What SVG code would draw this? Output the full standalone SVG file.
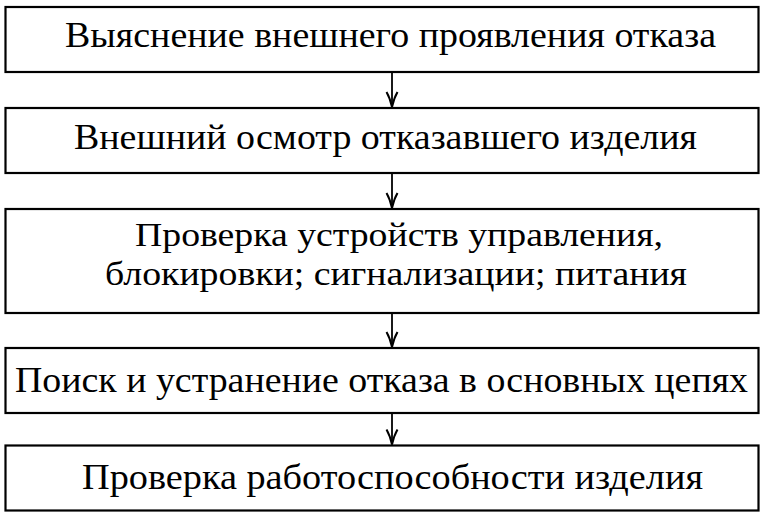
<svg xmlns="http://www.w3.org/2000/svg" width="768" height="520" viewBox="0 0 768 520">
<defs>
<style>
.box{fill:#fff;stroke:#000;stroke-width:2.2}
.t{font-family:"Liberation Serif","Times New Roman",serif;font-size:36px;fill:#000}
.s{font-size:33px}
.c{stroke:#000;stroke-width:1.8;fill:none}
</style>
<marker id="ah" viewBox="-17 -8 18 16" refX="0" refY="0" markerWidth="18" markerHeight="16" markerUnits="userSpaceOnUse" orient="auto">
<path d="M-15,-5.5 Q-9,-2 0,0 Q-9,2 -15,5.5" fill="none" stroke="#000" stroke-width="2"/>
</marker>
</defs>
<rect width="768" height="520" fill="#fff"/>
<g id="n1"><rect class="box" x="5.5" y="7" width="753" height="65"/><text class="t" x="65" y="47" textLength="651" lengthAdjust="spacingAndGlyphs">Выяснение внешнего проявления отказа</text></g>
<g id="n2"><rect class="box" x="5.5" y="108" width="753" height="65"/><text class="t" x="74" y="149" textLength="623" lengthAdjust="spacingAndGlyphs">Внешний осмотр отказавшего изделия</text></g>
<g id="n3"><rect class="box" x="5.5" y="209" width="753" height="104"/><text class="t s" x="135" y="246" textLength="528" lengthAdjust="spacingAndGlyphs">Проверка устройств управления,</text><text class="t s" x="105" y="285" textLength="582" lengthAdjust="spacingAndGlyphs">блокировки; сигнализации; питания</text></g>
<g id="n4"><rect class="box" x="5.5" y="348" width="753" height="65"/><text class="t" x="15" y="392" textLength="733" lengthAdjust="spacingAndGlyphs">Поиск и устранение отказа в основных цепях</text></g>
<g id="n5"><rect class="box" x="5.5" y="445.5" width="753" height="65"/><text class="t" x="82" y="489" textLength="621" lengthAdjust="spacingAndGlyphs">Проверка работоспособности изделия</text></g>
<g id="connectors">
<line class="c" x1="392" y1="73" x2="392" y2="107" marker-end="url(#ah)"/>
<line class="c" x1="392" y1="174" x2="392" y2="208" marker-end="url(#ah)"/>
<line class="c" x1="392" y1="314" x2="392" y2="347" marker-end="url(#ah)"/>
<line class="c" x1="392" y1="414" x2="392" y2="444.5" marker-end="url(#ah)"/>
</g>
</svg>
